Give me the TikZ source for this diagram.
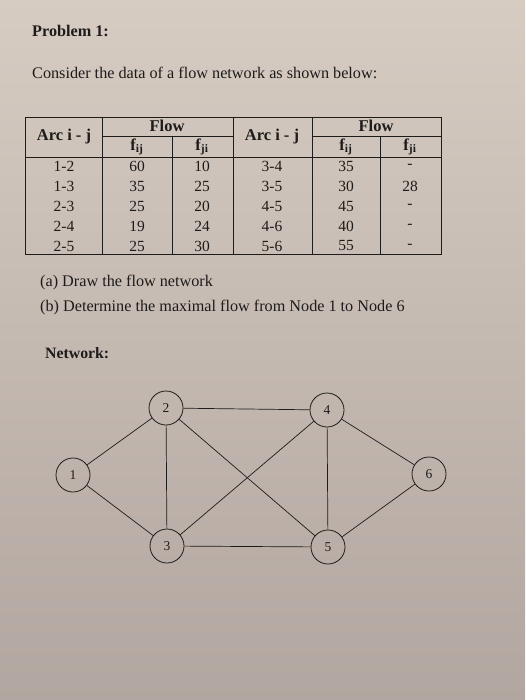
\documentclass[tikz,border=0pt]{standalone}
\usepackage{fontspec}
\setmainfont{Liberation Serif}
\definecolor{papertop}{RGB}{214,204,194}
\definecolor{paperbot}{RGB}{178,166,160}
\definecolor{ink}{RGB}{30,27,27}
\begin{document}
\begin{tikzpicture}[x=1pt,y=-1pt,
  txt/.style={inner sep=0pt,text=ink,font=\fontsize{16.2}{18}\selectfont},
  btxt/.style={inner sep=0pt,text=ink,font=\fontsize{16.2}{18}\selectfont\bfseries},
  cell/.style={inner sep=0pt,text=ink,font=\fontsize{15.5}{16}\selectfont},
  hcell/.style={inner sep=0pt,text=ink,font=\fontsize{16.5}{17}\selectfont\bfseries},
  rule/.style={draw=ink,line width=0.8pt},
  vertex/.style={draw=ink,circle,line width=0.8pt,minimum size=34pt,inner sep=0pt,text=ink,font=\fontsize{13.5}{14}\selectfont},
  edge/.style={draw=ink,line width=0.7pt}]
\shade[top color=papertop,bottom color=paperbot] (0,0) rectangle (525,700);
\useasboundingbox (0,0) rectangle (525,700);
% titles
\node[btxt,anchor=west] (title) at (32,31) {Problem 1:};
\node[txt,anchor=west] (intro) at (32,73) {Consider the data of a flow network as shown below:};
% table frame
\draw[rule] (25,117) rectangle (441,254);
\draw[rule] (25,157) -- (441,157);
\draw[rule] (102,117) -- (102,254);
\draw[rule] (233,117) -- (233,254);
\draw[rule] (312,117) -- (312,254);
\draw[rule] (102,136) -- (233,136);
\draw[rule] (312,136) -- (441,136);
\draw[rule] (172,136) -- (172,254);
\draw[rule] (380,136) -- (380,254);
% headers
\node[hcell] (arcA) at (64,137) {Arc i - j};
\node[hcell] (flowA) at (167,126) {Flow};
\node[hcell] (fijA) at (137,147) {f\textsubscript{ij}};
\node[hcell] (fjiA) at (202,147) {f\textsubscript{ji}};
\node[hcell] (arcB) at (272,137) {Arc i - j};
\node[hcell] (flowB) at (376,126) {Flow};
\node[hcell] (fijB) at (346,147) {f\textsubscript{ij}};
\node[hcell] (fjiB) at (410,147) {f\textsubscript{ji}};
% rows
\foreach \y/\a/\b/\c/\d/\e/\f [count=\i] in {166/1-2/60/10/3-4/35/-,186/1-3/35/25/3-5/30/28,206/2-3/25/20/4-5/45/-,226/2-4/19/24/4-6/40/-,246/2-5/25/30/5-6/55/-}{
  \node[cell] (ra\i) at (64,\y) {\a};
  \node[cell] (rb\i) at (137,\y) {\b};
  \node[cell] (rc\i) at (202,\y) {\c};
  \node[cell] (rd\i) at (272,\y) {\d};
  \node[cell] (re\i) at (346,\y) {\e};
  \node[cell] (rf\i) at (410,\y) {\f};
}
% questions
\node[txt,anchor=west] (qa) at (40,283) {(a) Draw the flow network};
\node[txt,anchor=west] (qb) at (40,308) {(b) Determine the maximal flow from Node 1 to Node 6};
\node[btxt,anchor=west,font=\fontsize{15.8}{17}\selectfont\bfseries] (net) at (45,353) {Network:};
% network
\node[vertex] (n1) at (73,475) {1};
\node[vertex] (n2) at (166,408) {2};
\node[vertex] (n3) at (167,546) {3};
\node[vertex] (n4) at (327,410) {4};
\node[vertex] (n5) at (328,547) {5};
\node[vertex] (n6) at (429,474) {6};
\foreach \u/\v in {n1/n2,n1/n3,n2/n3,n2/n4,n2/n5,n3/n4,n3/n5,n4/n5,n4/n6,n5/n6}
  \draw[edge] (\u) -- (\v);
\end{tikzpicture}
\end{document}
